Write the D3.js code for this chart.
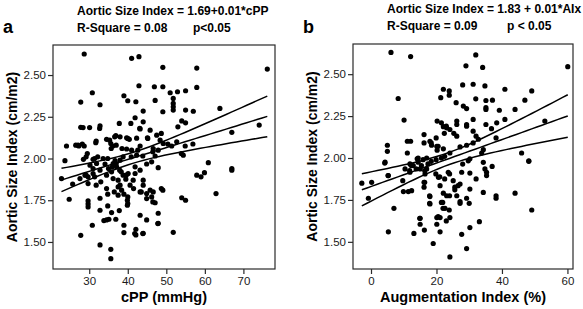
<!DOCTYPE html>
<html><head><meta charset="utf-8">
<script src="https://cdn.jsdelivr.net/npm/d3@7"></script>
<style>html,body{margin:0;padding:0;background:#fff;}svg{display:block;}</style>
</head><body>
<svg id="c" width="583" height="309"></svg>
<script>
// ---- data ----
const yTicks = [1.50, 1.75, 2.00, 2.25, 2.50];
const xTicksA = [30, 40, 50, 60, 70];
const xTicksB = [0, 20, 40, 60];
const panelLetters = ["a", "b"];
const equations = ["Aortic Size Index = 1.69+0.01*cPP", "Aortic Size Index = 1.83 + 0.01*AIx"];
const rSquares = ["R-Square = 0.08", "R-Square = 0.09"];
const pValues = ["p<0.05", "p < 0.05"];
const xTitles = ["cPP (mmHg)", "Augmentation Index (%)"];
const yTitle = "Aortic Size Index (cm/m2)";
// fitted lines as drawn in the reference: [intercept, slope]
const fitA = [1.709, 0.00713];
const fitB = [1.830, 0.00700];

// panel a: [cPP, ASI]
const pointsA = [
[28.7,2.626],[41.0,2.60],[42.9,2.61],[49.1,2.546],[57.9,2.542],[76.2,2.536],
[42.9,2.436],[46.9,2.43],[49.1,2.43],[57.9,2.426],[30.8,2.394],[51.0,2.394],[52.9,2.40],[55.0,2.406],
[27.8,2.338],[32.8,2.322],[39.0,2.376],[40.0,2.346],[42.1,2.34],[47.1,2.348],[51.8,2.36],[51.8,2.33],[51.8,2.31],[51.8,2.29],
[44.0,2.284],[49.1,2.28],[55.0,2.29],[57.0,2.283],[63.9,2.30],[41.9,2.244],[44.0,2.22],[37.8,2.21],[40.8,2.21],
[27.8,2.187],[28.4,2.185],[32.8,2.195],[43.2,2.177],[45.8,2.17],[55.0,2.214],[54.0,2.225],[67.0,2.157],[74.1,2.20],
[34.5,2.115],[36.9,2.137],[38.0,2.13],[39.7,2.124],[40.4,2.115],[42.3,2.122],[45.1,2.124],[47.5,2.14],[48.4,2.11],[49.2,2.09],[50.4,2.087],[52.7,2.10],
[24.1,2.075],[26.5,2.08],[27.3,2.075],[28.2,2.087],[28.7,2.075],[31.7,2.095],[35.6,2.09],[36.1,2.075],[38.5,2.06],[39.7,2.057],[41.0,2.05],[43.2,2.075],[46.6,2.06],[47.9,2.05],[51.4,2.075],[54.9,2.075],[56.9,2.087],
[29.5,2.03],[32.2,2.01],[34.8,2.00],[23.7,1.987],[28.5,1.995],[31.0,1.995],[36.7,1.987],[38.8,2.01],[42.3,2.02],[47.1,2.015],[54.4,2.02],[60.9,1.975],[67.0,1.94],[47.9,1.945],
[22.8,1.88],[25.7,1.847],[24.8,1.756],[29.7,1.747],[29.7,1.728],[29.7,1.71],[32.8,1.762],[32.8,1.69],[34.8,1.786],[34.8,1.716],[35.8,1.676],[33.8,1.628],[34.5,1.632],[35.1,1.636],[36.9,1.636],[37.8,1.688],[30.8,1.60],[27.8,1.54],[39.0,1.60],[39.0,1.556],[42.1,1.576],[42.1,1.542],[44.0,1.552],[44.9,1.632],[47.9,1.672],[47.9,1.612],[47.1,1.735],[49.1,1.81],[39.9,1.75],[39.9,1.72],[39.0,1.786],[51.8,1.558],[54.0,1.765],[55.0,1.75],[57.9,1.90],[59.0,1.89],[59.9,1.915],[62.9,1.79],[67.0,1.93],[32.8,1.482],[35.6,1.456],[35.6,1.40],[43.2,1.66],
[44.0,1.87],[44.0,1.84],[43.2,1.80],[44.9,1.79],[45.8,1.81],[46.6,1.80],[46.2,1.77],[44.9,1.76],[40.6,1.84],[41.5,1.82],[39.5,1.876],[38.8,1.90],[37.9,1.93],[37.1,1.95],[35.8,1.92],[34.5,1.90],[32.8,1.93],[31.0,1.91],[29.7,1.89],[28.9,1.90],[27.6,1.88],[30.2,1.96],[31.9,1.97],[34.1,1.967],[36.2,1.97],[37.5,1.87],[38.0,1.84],[38.4,1.81],[40.1,1.91],[41.9,1.95],[41.9,1.91],[43.2,1.93],[44.9,1.967],[46.2,1.98],
[30.1,2.185],[32.7,2.18],[27.1,2.08],[31.8,2.105],[35.3,2.11],[36.6,2.13],[37.0,2.08],[35.7,2.06],[29.2,2.01],[31.4,2.00],[33.6,2.00],[31.0,1.94],[29.2,1.90],[31.4,1.89],[29.7,1.85],[31.8,1.84],[36.2,1.88],[37.5,1.83],[36.0,1.95],[37.0,1.97],[38.0,1.99],[35.0,1.94],[33.0,1.86],[34.5,1.82],[36.5,1.80],[37.5,1.78],
[43.1,2.18],[53.0,2.19],[40.0,2.12],[45.2,2.12],[48.7,2.15],[42.6,2.05],[46.5,2.04],[40.9,2.01],[43.9,2.015],[53.9,2.03],[38.3,1.92],[39.6,1.90],[41.4,1.87],[43.5,1.80],[48.7,1.82],[46.5,1.74],[40.0,1.77],[40.0,1.73],[47.8,1.61],[41.8,1.55],[43.9,1.55]
];

// panel b: [AIx, ASI]
const pointsB = [
[6.1,2.63],[12.1,2.605],[32.0,2.615],[29.0,2.55],[34.1,2.54],[60.1,2.545],
[8.3,2.355],[22.1,2.41],[23.9,2.40],[23.9,2.375],[21.3,2.36],[28.0,2.436],[31.2,2.44],[34.8,2.43],[40.9,2.41],[49.1,2.40],[47.0,2.345],
[26.0,2.33],[28.2,2.31],[29.2,2.295],[32.0,2.353],[35.1,2.343],[37.1,2.345],[35.1,2.30],[35.1,2.29],[39.2,2.285],[44.0,2.29],
[10.1,2.226],[16.2,2.14],[20.2,2.22],[22.1,2.187],[23.1,2.18],[24.1,2.17],[22.4,2.147],[26.2,2.22],[26.2,2.20],[25.3,2.147],[26.2,2.13],[29.2,2.20],[29.2,2.19],[31.2,2.23],[31.2,2.16],[32.1,2.13],[32.8,2.112],[35.1,2.20],[36.8,2.175],[38.4,2.21],[40.9,2.23],[38.2,2.12],[53.1,2.22],
[11.1,2.10],[12.1,2.10],[5.0,2.076],[5.0,2.04],[11.1,2.03],[16.2,2.09],[18.0,2.10],[18.5,2.076],[20.1,2.07],[20.2,2.047],[22.1,2.055],[24.1,2.03],[27.2,2.066],[29.2,2.076],[31.2,2.09],[34.3,2.05],[33.8,2.03],[17.0,2.00],[14.1,1.995],[46.0,2.03],[48.2,1.98],[4.3,1.975],[11.9,1.965],[30.2,1.995],
[-2.8,1.85],[0.2,1.855],[-0.8,1.76],[5.3,1.895],[7.0,1.70],[5.3,1.56],[9.7,1.865],[9.9,1.80],[11.4,1.80],[12.4,1.805],[10.4,1.935],[11.9,1.915],[12.9,1.955],[14.4,1.975],[15.0,1.935],[16.5,1.905],[17.0,1.935],[16.2,1.855],[16.2,1.826],[15.0,1.64],[15.0,1.605],[16.3,1.57],[13.1,1.55],[18.0,1.77],[18.0,1.726],[19.0,1.49],[19.8,1.905],[20.6,1.885],[21.1,1.835],[20.1,1.645],[20.1,1.605],[21.1,1.56],[21.1,1.645],[21.9,1.735],[22.1,1.79],[23.1,1.775],[22.6,1.70],[23.9,1.69],[24.1,1.645],[24.1,1.41],[23.6,1.915],[25.1,1.865],[25.6,1.826],[25.6,1.81],[26.6,1.835],[26.2,1.775],[27.2,1.845],[27.2,1.74],[27.2,1.73],[27.7,1.915],[28.0,1.964],[27.7,1.545],[29.2,1.46],[29.2,1.76],[30.0,1.73],[30.2,1.815],[30.2,1.585],[30.2,1.91],[29.7,1.983],[32.1,1.875],[33.1,1.62],[34.3,1.795],[34.3,1.974],[34.8,1.935],[35.3,1.915],[35.3,1.895],[37.0,1.95],[38.2,1.775],[38.2,1.76],[44.0,1.79],[48.2,1.983],[49.1,1.69],
[4.2,1.97],[5.2,1.895],[14.4,2.00],[15.9,1.99],[12.3,1.955],[11.8,1.925],[13.8,1.935],[15.4,1.955],[16.4,1.925],[17.4,1.965],[18.4,1.98],[19.9,1.99],[21.5,2.00],[22.5,2.01],[16.4,1.855],[17.9,1.775],[17.9,1.73],[21.0,1.888],[22.5,1.875],[24.0,1.905],[14.9,1.64],[20.5,1.65],[22.0,1.70],[21.5,1.735],[23.0,1.625],[24.0,1.775],[20.5,2.07],[19.9,2.12],[18.4,2.09],[21.5,2.21],[23.0,2.19]
];

// ---- drawing ----
const svg = d3.select("#c");
const FONT = "'Liberation Sans', Arial, sans-serif";

const panels = [
  {pts: pointsA, fit: fitA, xDomain: [20.6, 78.2], xTicks: xTicksA, left: 53, right: 275, top: 45, bottom: 269, dx: 0, eqY: 15},
  {pts: pointsB, fit: fitB, xDomain: [-5.5, 61.7], xTicks: xTicksB, left: 353, right: 573, top: 44, bottom: 269, dx: 300, eqY: 13}
];

// 95% confidence band of the fitted mean, using the sample's spread
function bandStats(pts, fit) {
  const n = pts.length;
  const mx = d3.mean(pts, d => d[0]);
  const sxx = d3.sum(pts, d => (d[0]-mx)**2);
  const s = Math.sqrt(d3.sum(pts, d => (d[1]-fit[0]-fit[1]*d[0])**2) / (n-2));
  return {n, mx, sxx, s, t: 1.974};
}

panels.forEach((p, i) => {
  const x = d3.scaleLinear().domain(p.xDomain).range([p.left, p.right]);
  const y = d3.scaleLinear().domain([1.338, 2.68]).range([p.bottom, p.top]);
  const g = svg.append("g");

  g.append("rect").attr("x", p.left).attr("y", p.top)
    .attr("width", p.right - p.left).attr("height", p.bottom - p.top)
    .attr("fill", "none").attr("stroke", "#2a2a2a").attr("stroke-width", 1.2);

  const ax = g.append("g").attr("transform", `translate(0,${p.bottom})`)
    .call(d3.axisBottom(x).tickValues(p.xTicks).tickSize(5).tickPadding(3).tickFormat(d3.format("d")));
  const ay = g.append("g").attr("transform", `translate(${p.left},0)`)
    .call(d3.axisLeft(y).tickValues(yTicks).tickSize(5).tickPadding(2).tickFormat(d3.format(".2f")));
  [ax, ay].forEach(a => {
    a.select(".domain").remove();
    a.selectAll("line").attr("stroke", "#2a2a2a").attr("stroke-width", 1.2);
    a.selectAll("text").attr("font-family", FONT).attr("font-size", 11.5).attr("fill", "#1a1a1a");
  });

  g.append("g").selectAll("circle").data(p.pts).join("circle")
    .attr("cx", d => x(d[0])).attr("cy", d => y(d[1])).attr("r", 2.6).attr("fill", "#000");

  const r = bandStats(p.pts, p.fit);
  const xmin = d3.min(p.pts, d => d[0]), xmax = d3.max(p.pts, d => d[0]);
  const xs = d3.range(0, 41).map(k => xmin + k/40 * (xmax - xmin));
  const se = xv => r.t * r.s * Math.sqrt(1/r.n + (xv - r.mx)**2 / r.sxx);
  const line = d3.line().x(d => x(d[0])).y(d => y(d[1]));
  [0, 1, -1].forEach(k => {
    g.append("path").datum(xs.map(xv => [xv, p.fit[0] + p.fit[1]*xv + k*se(xv)]))
      .attr("d", line).attr("fill", "none").attr("stroke", "#000").attr("stroke-width", 1.5);
  });

  g.append("text").attr("x", 3 + p.dx).attr("y", 33).text(panelLetters[i])
    .attr("font-family", FONT).attr("font-weight", "bold").attr("font-size", 18);
  g.append("text").attr("x", 77 + p.dx + (i ? 10 : 0)).attr("y", p.eqY).text(equations[i])
    .attr("font-family", FONT).attr("font-weight", "bold").attr("font-size", 12);
  g.append("text").attr("x", 77 + p.dx + (i ? 10 : 0)).attr("y", p.eqY + 17).text(rSquares[i])
    .attr("font-family", FONT).attr("font-weight", "bold").attr("font-size", 12);
  g.append("text").attr("x", i ? 507 : 193).attr("y", p.eqY + 17).text(pValues[i])
    .attr("font-family", FONT).attr("font-weight", "bold").attr("font-size", 12);
  g.append("text").attr("x", (p.left + p.right) / 2).attr("y", 302).attr("text-anchor", "middle")
    .text(xTitles[i]).attr("font-family", FONT).attr("font-weight", "bold").attr("font-size", 14.5);
  g.append("text").attr("transform", `translate(${17 + p.dx},${(p.top + p.bottom) / 2}) rotate(-90)`)
    .attr("text-anchor", "middle").text(yTitle)
    .attr("font-family", FONT).attr("font-weight", "bold").attr("font-size", 14);
});
</script>
</body></html>
